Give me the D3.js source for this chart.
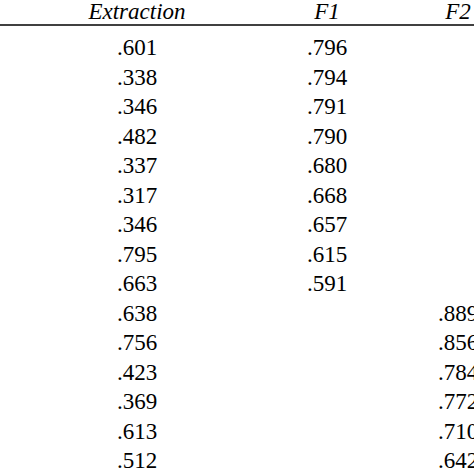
<!DOCTYPE html>
<html><head><meta charset="utf-8">
<script src="https://cdn.jsdelivr.net/npm/d3@7"></script>
<style>body{margin:0;background:#fff}</style>
</head><body>
<div class="container"></div>
<script>
const width = 474, height = 474;

const headers = ['Extraction', 'F1', 'F2'];
const extraction = ['.601','.338','.346','.482','.337','.317','.346','.795','.663','.638','.756','.423','.369','.613','.512'];
const f1 = ['.796','.794','.791','.790','.680','.668','.657','.615','.591','','','','','',''];
const f2 = ['','','','','','','','','','.889','.856','.784','.772','.710','.642'];

const svg = d3.select('.container').append('svg')
    .attr('width', width).attr('height', height);

const x = d3.scaleOrdinal().domain(headers).range([137, 327, 458]);
const y = d3.scaleLinear().domain([0, extraction.length - 1]).range([55, 468]);

svg.append('line').attr('x1', 0).attr('x2', width)
    .attr('y1', 25).attr('y2', 25).attr('stroke', '#000').attr('stroke-width', 1.6);

svg.selectAll('.head').data(headers).enter().append('text')
    .attr('x', d => x(d)).attr('y', 19)
    .attr('text-anchor', 'middle')
    .attr('font-family', 'Liberation Serif').attr('font-style', 'italic')
    .attr('font-size', 23).text(d => d);

[extraction, f1, f2].forEach((col, c) => {
    svg.selectAll('.c' + c).data(col).enter().append('text')
        .attr('x', x(headers[c])).attr('y', (d, i) => y(i))
        .attr('text-anchor', 'middle')
        .attr('font-family', 'Liberation Serif')
        .attr('font-size', 23).text(d => d);
});
</script>
</body></html>
